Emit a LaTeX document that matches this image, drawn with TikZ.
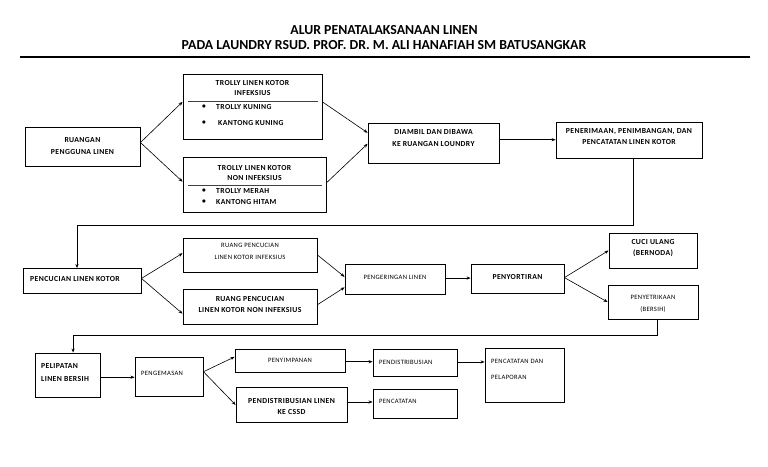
\documentclass[tikz,border=0pt]{standalone}
\usepackage{fontspec}
\setmainfont{Carlito}
\newfontfamily\spfont[LetterSpace=5]{Carlito}
\usetikzlibrary{arrows.meta,calc}
\begin{document}
\begin{tikzpicture}[x=1pt,y=-1pt,
  box/.style={draw, line width=0.9pt, inner sep=0pt},
  bt/.style={font=\spfont\fontsize{7.7}{11.5}\selectfont\bfseries, align=center, inner sep=0pt},
  st/.style={font=\spfont\fontsize{6.6}{11.5}\selectfont, align=center, inner sep=0pt},
  ttl/.style={font=\fontsize{13.8}{15}\selectfont\bfseries, inner sep=0pt},
  arr/.style={-{Stealth[length=4pt,width=3.2pt]}, line width=0.6pt}]
\useasboundingbox (0,0) rectangle (768,466);
\fill[white] (0,0) rectangle (768,466);
% title
\node[ttl] (t1) at (384,30) {ALUR PENATALAKSANAAN LINEN};
\node[ttl] (t2) at (384,45) {PADA LAUNDRY RSUD. PROF. DR. M. ALI HANAFIAH SM BATUSANGKAR};
\coordinate (rl) at (20,57);
\coordinate (rr) at (750,57);
\draw[line width=1.2pt] (rl) -- (rr);

% row 1
\node[box, minimum width=115, minimum height=39] (ruang) at (82.5,146.5) {};
\node[bt] (ruangT) at (82.5,146) {RUANGAN\\PENGGUNA LINEN};

\node[box, minimum width=139, minimum height=65] (tinf) at (252.5,106.5) {};
\node[bt, font=\spfont\fontsize{7.7}{10.5}\selectfont\bfseries] (tinfT) at (252.5,88) {TROLLY LINEN KOTOR\\INFEKSIUS};
\coordinate (d1a) at (188,101);
\coordinate (d1b) at (318,101);
\draw[line width=1pt, black!75] (d1a) -- (d1b);
\node[bt] (b1) at (204,107) {$\bullet$};
\node[bt, anchor=west] (tk) at (216,107) {TROLLY KUNING};
\node[bt] (b2) at (204,123) {$\bullet$};
\node[bt, anchor=west] (kk) at (218,123) {KANTONG KUNING};

\node[box, minimum width=143, minimum height=55] (tnon) at (254.5,184.5) {};
\node[bt, font=\spfont\fontsize{7.7}{10.5}\selectfont\bfseries] (tnonT) at (254.5,173) {TROLLY LINEN KOTOR\\NON INFEKSIUS};
\coordinate (d2a) at (188,185);
\coordinate (d2b) at (322,185);
\draw[line width=1pt, black!75] (d2a) -- (d2b);
\node[bt] (b3) at (204,191) {$\bullet$};
\node[bt, anchor=west] (tm) at (216,191) {TROLLY MERAH};
\node[bt] (b4) at (204,202) {$\bullet$};
\node[bt, anchor=west] (kh) at (216,202) {KANTONG HITAM};

\node[box, minimum width=131, minimum height=40] (diambil) at (433.5,143) {};
\node[bt] (diambilT) at (433.5,138) {DIAMBIL DAN DIBAWA\\KE RUANGAN LOUNDRY};

\node[box, minimum width=146, minimum height=36] (terima) at (629,140) {};
\node[bt] (terimaT) at (629,136.5) {PENERIMAAN, PENIMBANGAN, DAN\\PENCATATAN LINEN KOTOR};

% row 2
\node[box, minimum width=118, minimum height=25] (pencuc) at (82,281) {};
\node[bt, anchor=west] (pencucT) at (30,279) {PENCUCIAN LINEN KOTOR};

\node[box, minimum width=134, minimum height=34] (rpinf) at (250,255) {};
\node[st] (rpinfT) at (250,251.5) {RUANG PENCUCIAN\\LINEN KOTOR INFEKSIUS};

\node[box, minimum width=134, minimum height=35] (rpnon) at (250,306.5) {};
\node[bt] (rpnonT) at (250,304.5) {RUANG PENCUCIAN\\LINEN KOTOR NON INFEKSIUS};

\node[box, minimum width=100, minimum height=30] (kering) at (395,279) {};
\node[st] (keringT) at (395,277.5) {PENGERINGAN LINEN};

\node[box, minimum width=93, minimum height=29] (sortir) at (517.5,278.5) {};
\node[bt] (sortirT) at (517.5,277) {PENYORTIRAN};

\node[box, minimum width=88, minimum height=35] (cuci) at (653,250.5) {};
\node[bt] (cuciT) at (653,248) {CUCI ULANG\\(BERNODA)};

\node[box, minimum width=90, minimum height=34] (setrika) at (653,302) {};
\node[st] (setrikaT) at (653,304) {PENYETRIKAAN\\(BERSIH)};

% row 3
\node[box, minimum width=65, minimum height=44] (lipat) at (67.5,375) {};
\node[bt, anchor=west, align=left, font=\spfont\fontsize{7.7}{13}\selectfont\bfseries] (lipatT) at (41,372.5) {PELIPATAN\\LINEN BERSIH};

\node[box, minimum width=68, minimum height=39] (kemas) at (169,376.5) {};
\node[st, anchor=west] (kemasT) at (141,373) {PENGEMASAN};

\node[box, minimum width=110, minimum height=23] (simpan) at (290,360.5) {};
\node[st] (simpanT) at (290,360.5) {PENYIMPANAN};

\node[box, minimum width=111, minimum height=35] (cssd) at (291.5,404.5) {};
\node[bt] (cssdT) at (291.5,406.5) {PENDISTRIBUSIAN LINEN\\KE CSSD};

\node[box, minimum width=84, minimum height=27] (dist) at (415,362.5) {};
\node[st, anchor=west] (distT) at (379,362) {PENDISTRIBUSIAN};

\node[box, minimum width=84, minimum height=29] (catat) at (415,403.5) {};
\node[st, anchor=west] (catatT) at (379,401.5) {PENCATATAN};

\node[box, minimum width=79, minimum height=54] (lapor) at (524.5,375) {};
\node[st, anchor=west, align=left, font=\spfont\fontsize{6.6}{16}\selectfont] (laporT) at (491,369) {PENCATATAN DAN\\PELAPORAN};

% connectors row 1
\coordinate (r1) at ($(ruang.north east)!.4!(ruang.south east)$);
\draw[arr] (r1) -- ($(tinf.north west)!.43!(tinf.south west)$);
\draw[arr] (r1) -- ($(tnon.north west)!.45!(tnon.south west)$);
\draw[arr] ($(tinf.north east)!.43!(tinf.south east)$) -- ($(diambil.north west)!.25!(diambil.south west)$);
\draw[arr] ($(tnon.north east)!.47!(tnon.south east)$) -- ($(diambil.north west)!.52!(diambil.south west)$);
\coordinate (dE) at ($(diambil.north east)!.42!(diambil.south east)$);
\draw[arr] (dE) -- (dE -| terima.west);
\coordinate (tb) at ($(terima.south west)!.527!(terima.south east)$);
\coordinate (turn1) at (0,225);
\coordinate (pcTop) at ($(pencuc.north west)!.458!(pencuc.north east)$);
\draw[arr] (tb) -- (tb |- turn1) -- (pcTop |- turn1) -- (pcTop);

% connectors row 2
\coordinate (p1) at ($(pencuc.north east)!.4!(pencuc.south east)$);
\draw[arr] (p1) -- ($(rpinf.north west)!.45!(rpinf.south west)$);
\draw[arr] (p1) -- ($(rpnon.north west)!.7!(rpnon.south west)$);
\draw[arr] ($(rpinf.north east)!.5!(rpinf.south east)$) -- ($(kering.north west)!.43!(kering.south west)$);
\draw[arr] ($(rpnon.north east)!.45!(rpnon.south east)$) -- ($(kering.north west)!.77!(kering.south west)$);
\coordinate (kE) at ($(kering.north east)!.47!(kering.south east)$);
\draw[arr] (kE) -- (kE -| sortir.west);
\coordinate (sE) at ($(sortir.north east)!.47!(sortir.south east)$);
\draw[arr] (sE) -- (cuci.west);
\draw[arr] (sE) -- (setrika.west);
\coordinate (sb) at ($(setrika.south west)!.544!(setrika.south east)$);
\coordinate (turn2) at (0,335);
\coordinate (lTop) at ($(lipat.north west)!.585!(lipat.north east)$);
\draw[arr] (sb) -- (sb |- turn2) -- (lTop |- turn2) -- (lTop);

% connectors row 3
\coordinate (lE) at ($(lipat.north east)!.55!(lipat.south east)$);
\draw[arr] (lE) -- (lE -| kemas.west);
\coordinate (kmE) at ($(kemas.north east)!.38!(kemas.south east)$);
\draw[arr] (kmE) -- ($(simpan.north west)!.35!(simpan.south west)$);
\draw[arr] (kmE) -- ($(cssd.north west)!.51!(cssd.south west)$);
\coordinate (siE) at ($(simpan.north east)!.55!(simpan.south east)$);
\draw[arr] (siE) -- (siE -| dist.west);
\coordinate (diE) at ($(dist.north east)!.48!(dist.south east)$);
\draw[arr] (diE) -- (diE -| lapor.west);
\coordinate (cE) at ($(cssd.north east)!.43!(cssd.south east)$);
\draw[arr] (cE) -- (cE -| catat.west);
\end{tikzpicture}
\end{document}
